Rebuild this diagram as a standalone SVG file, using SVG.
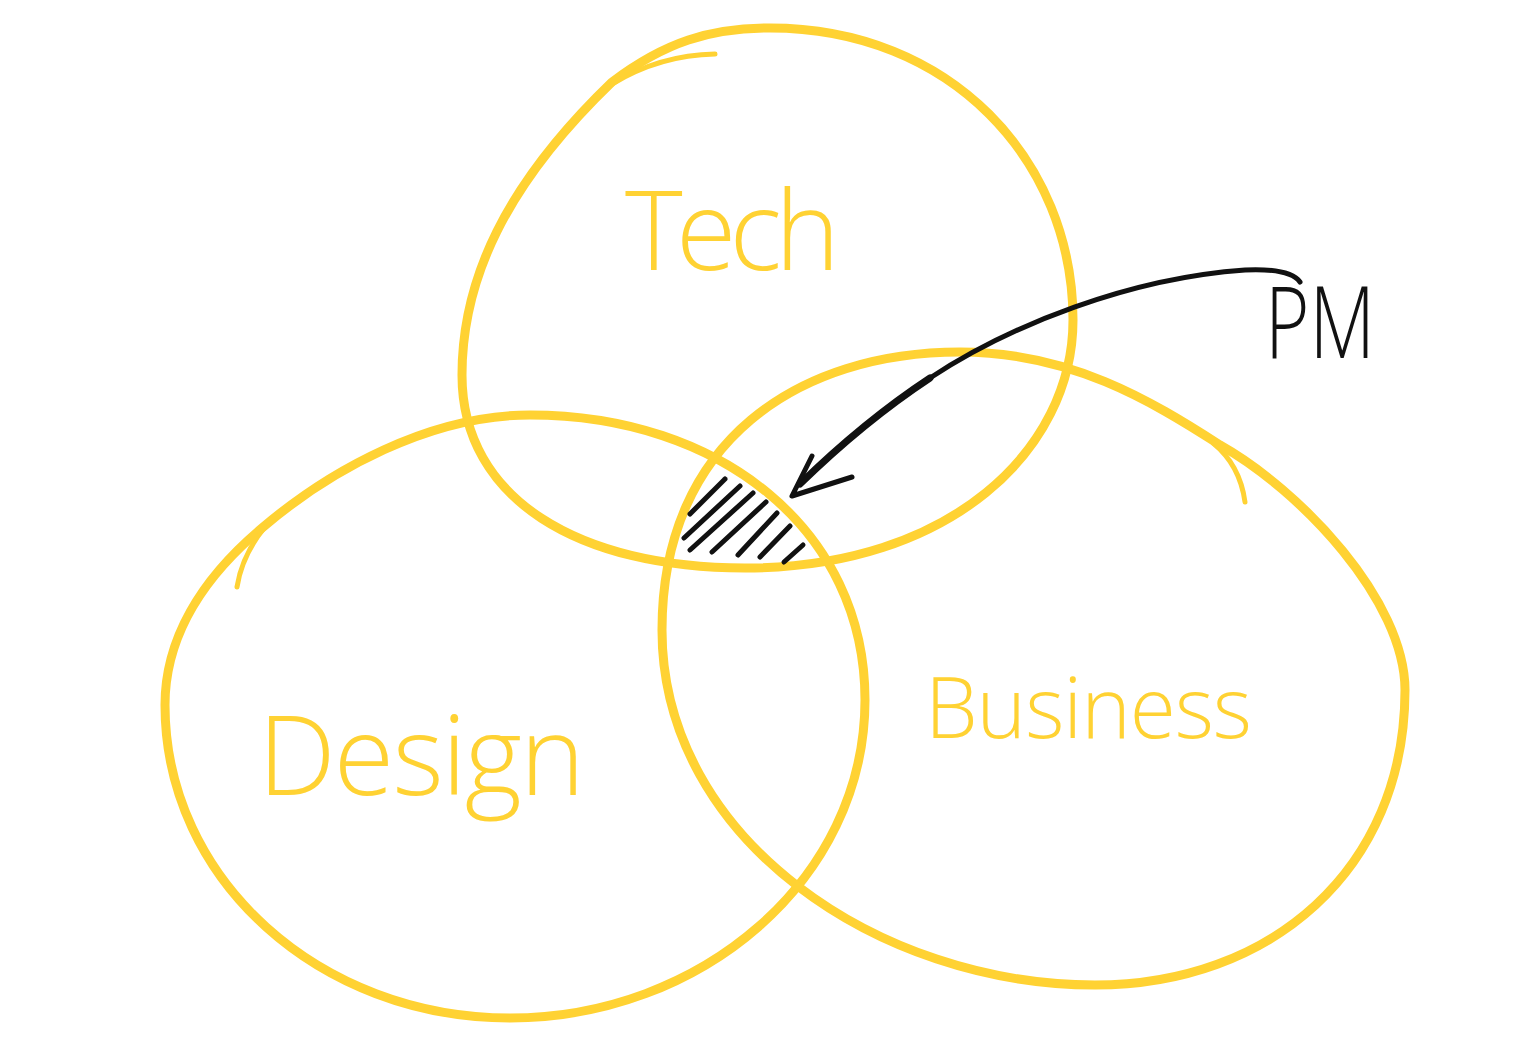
<svg xmlns="http://www.w3.org/2000/svg" width="1524" height="1038" viewBox="0 0 1524 1038">
<style>
.ring{fill:none;stroke:#FFD233;stroke-width:9;stroke-linecap:round;stroke-linejoin:round}
.tail{fill:none;stroke:#FFD233;stroke-width:5;stroke-linecap:round}
.lbl{font-family:"Open Sans","Liberation Sans",sans-serif;font-weight:300;fill:#FFD233}
.ink{fill:none;stroke:#111;stroke-linecap:round;stroke-linejoin:round}
.pm{font-family:"Open Sans","Liberation Sans",sans-serif;font-weight:300;fill:#111}
</style>
<rect width="1524" height="1038" fill="#fff"/>
<g id="tech">
<path class="ring" d="M770 28 C950 28 1073 160 1073 320 C1073 450 950 568 745 568 C580 568 462 500 462 375 C462 280 505 185 612 82 C665 42 710 28 770 28"/>
<path class="tail" d="M612 84 Q660 55 715 54"/>
<text class="lbl" x="625" y="270" font-size="110" textLength="215" lengthAdjust="spacing">Tech</text>
</g>
<g id="design">
<path class="ring" d="M530 415 C720 415 865 530 865 700 C865 880 700 1018 510 1018 C320 1018 165 880 165 705 C165 640 200 580 262 528 C330 470 430 415 530 415"/>
<path class="tail" d="M265 527 Q242 555 237 587"/>
<text class="lbl" x="258" y="795" font-size="110" textLength="327" lengthAdjust="spacing">Design</text>
</g>
<g id="business">
<path class="ring" d="M960 352 C1070 352 1150 400 1220 445 C1300 490 1405 600 1405 690 C1405 870 1270 985 1095 985 C880 985 662 840 662 630 C662 440 800 352 960 352"/>
<path class="tail" d="M1213 443 Q1240 465 1245 502"/>
<text class="lbl" x="925" y="738" font-size="84" textLength="327" lengthAdjust="spacing">Business</text>
</g>
<g id="intersection" class="ink" stroke-width="5">
<path d="M690 514 L725 479"/>
<path d="M684 538 L740 486"/>
<path d="M690 550 L753 493"/>
<path d="M712 552 L766 502"/>
<path d="M738 555 L777 513"/>
<path d="M760 557 L790 526"/>
<path d="M784 562 L803 545"/>
</g>
<g id="pm">
<text class="pm" x="1265" y="358" font-size="100" textLength="110" lengthAdjust="spacingAndGlyphs">PM</text>
</g>
<g id="connectors" class="ink">
<path stroke-width="5" d="M1300 282 Q1290 268 1245 270 C1130 278 1010 325 930 378"/>
<path stroke-width="7" d="M930 378 C880 411 840 445 800 484"/>
<path stroke-width="5" d="M812 456 L792 496 L852 477"/>
</g>
</svg>
